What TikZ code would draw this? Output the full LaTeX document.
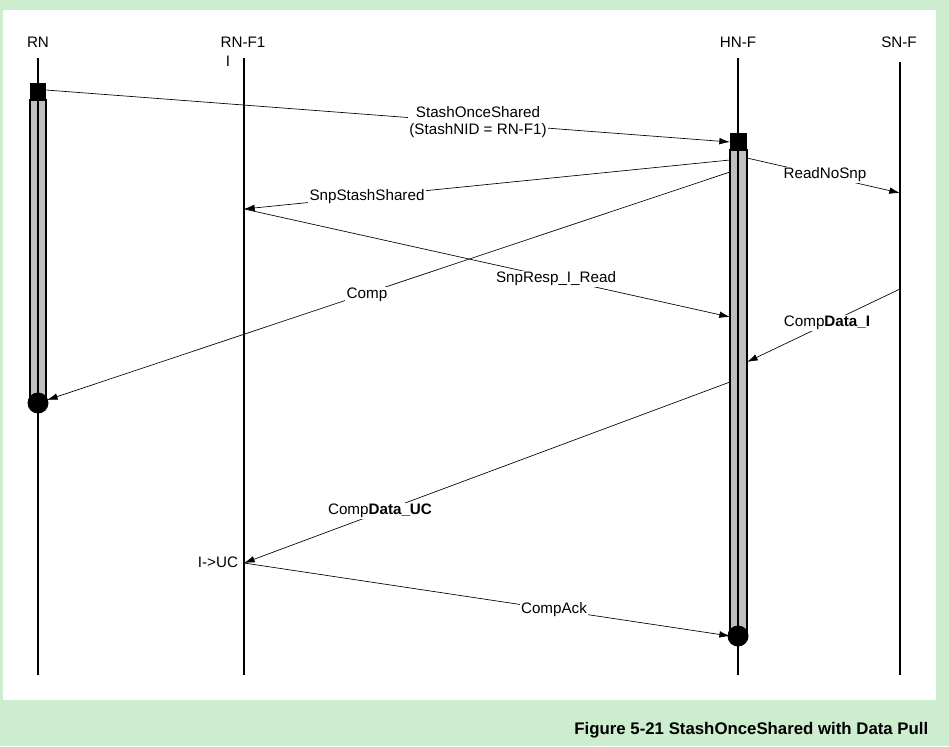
\documentclass[tikz,border=0pt]{standalone}
\usepackage{fontspec}
\setmainfont{Liberation Sans}
\usetikzlibrary{arrows.meta}
\begin{document}
\begin{tikzpicture}[x=0.75pt,y=-0.75pt,
  msg/.style={-{Latex[length=8pt,width=5pt]},line width=0.5pt},
  lbl/.style={fill=white,inner sep=1pt,font=\fontsize{11.4}{13}\selectfont,align=center},
  life/.style={line width=2.2pt},
  hdr/.style={font=\fontsize{11.4}{13}\selectfont}]
\fill[fill={rgb,255:red,205;green,237;blue,207}] (0,0) rectangle (949,746);
\useasboundingbox (0,0) rectangle (949,746);
\fill[white] (3,10) rectangle (936,700);
\node[anchor=east,font=\bfseries\fontsize{12.6}{14}\selectfont] (cap) at (933,730) {Figure 5-21 StashOnceShared with Data Pull};
% headers
\node[hdr] (hRN) at (38,42) {RN};
\node[hdr] (hF1) at (243,42) {RN-F1};
\node[hdr] (hHN) at (738,42) {HN-F};
\node[hdr] (hSN) at (899,42) {SN-F};
\node[hdr] (sI) at (228,61) {I};
\node[hdr] (sUC) at (218,562) {I->UC};
% lifelines
\draw[life] (38,58) -- (38,675);
\draw[life] (244,58) -- (244,675);
\draw[life] (738,58) -- (738,675);
\draw[life] (900,62) -- (900,675);
% activation bars
\filldraw[fill=gray!50,draw=black,line width=0.8pt] (30,100) rectangle (46,403);
\draw[life] (38,100) -- (38,403);
\fill[black] (30,83) rectangle (46,100);
\fill[black] (38,403) circle (10.5);
\filldraw[fill=gray!50,draw=black,line width=0.8pt] (730,150) rectangle (747,636);
\draw[life] (738,150) -- (738,636);
\fill[black] (730,133) rectangle (747,150);
\fill[black] (738,636) circle (10.5);
% coordinates
\coordinate (a1) at (46,90); \coordinate (b1) at (730,142);
\coordinate (a2) at (730,160); \coordinate (b2) at (244,209);
\coordinate (a3) at (747,158); \coordinate (b3) at (900,193);
\coordinate (a4) at (730,172); \coordinate (b4) at (47,400);
\coordinate (a5) at (244,209); \coordinate (b5) at (730,317);
\coordinate (a6) at (900,289); \coordinate (b6) at (747,362);
\coordinate (a7) at (730,382); \coordinate (b7) at (244,563);
\coordinate (a8) at (244,563); \coordinate (b8) at (730,636);
% messages
\draw[msg] (a1) -- (b1);
\draw[msg] (a2) -- (b2);
\draw[msg] (a3) -- (b3);
\draw[msg] (a4) -- (b4);
\draw[msg] (a5) -- (b5);
\draw[msg] (a6) -- (b6);
\draw[msg] (a7) -- (b7);
\draw[msg] (a8) -- (b8);
% labels
\node[lbl] (l1) at (478,122) {StashOnceShared\\(StashNID = RN-F1)};
\node[lbl] (l2) at (367,197) {SnpStashShared};
\node[lbl] (l3) at (825,175) {ReadNoSnp};
\node[lbl] (l4) at (367,295) {Comp};
\node[lbl] (l5) at (556,279) {SnpResp\_I\_Read};
\node[lbl] (l6) at (827,323) {Comp\textbf{Data\_I}};
\node[lbl] (l7) at (380,511) {Comp\textbf{Data\_UC}};
\node[lbl] (l8) at (554,610) {CompAck};
\end{tikzpicture}
\end{document}
